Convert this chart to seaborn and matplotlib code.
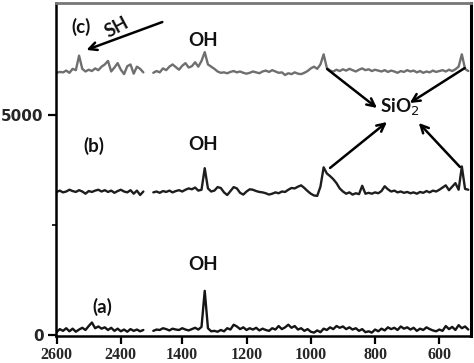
import numpy as np
import pandas as pd
import seaborn as sns
import matplotlib.pyplot as plt

# wavenumbers: left block 2600 -> 2330, right block 1490 -> 510 (step 10)
left_start, right_start, step = 2600, 1490, 10

# raw intensities (before vertical offset)
left_a = [60, 130, 90, 150, 80, 140, 70, 120, 160, 110,
          200, 280, 150, 190, 140, 170, 110, 160, 90, 140,
          80, 120, 70, 130, 90, 120, 80, 110]
right_a = [90, 120, 110, 150, 130, 100, 140, 120, 110, 150,
           120, 100, 130, 160, 120, 180, 1000, 150, 80, 90,
           70, 110, 80, 150, 120, 230, 190, 130, 170, 110,
           150, 120, 160, 100, 140, 110, 90, 150, 120, 200,
           130, 170, 230, 160, 200, 120, 150, 90, 130, 70,
           50, 100, 60, 140, 110, 170, 130, 200, 160, 190,
           130, 170, 120, 150, 90, 130, 60, 80, 50, 120,
           80, 140, 100, 170, 130, 160, 110, 190, 140, 170,
           120, 160, 90, 140, 110, 170, 130, 100, 80, 120,
           90, 200, 130, 180, 110, 220, 150, 190, 120]

left_b = [100, 130, 90, 110, 150, 120, 100, 140, 110, 60,
          120, 100, 130, 150, 110, 140, 100, 130, 80, 120,
          150, 110, 90, 140, 60, 130, 30, 110]
right_b = [90, 110, 80, 120, 100, 130, 90, 120, 140, 110,
           150, 180, 160, 200, 130, 150, 640, 180, 110, 130,
           210, 190, 90, 30, 120, 210, 180, 80, 40, 110,
           160, 150, 120, 100, 90, 70, 40, 60, 90, 70,
           110, 100, 150, 190, 180, 220, 250, 190, 120, 60,
           20, 10, 220, 660, 520, 460, 390, 300, 180, 110,
           60, 90, 40, 70, 50, 240, 60, 80, 60, 90,
           70, 120, 230, 160, 110, 130, 90, 110, 80, 100,
           70, 90, 60, 100, 80, 120, 90, 130, 110, 150,
           200, 250, 140, 220, 300, 150, 680, 170, 150]

left_c = [60, 80, 70, 110, 60, 150, 120, 450, 150, 90,
          130, 100, 160, 120, 200, 250, 330, 90, 180, 280,
          130, 30, 210, 250, 40, 200, 150, 70]
right_c = [60, 100, 70, 160, 120, 200, 250, 190, 130, 220,
           280, 180, 210, 300, 200, 330, 530, 250, 200, 150,
           90, 60, 70, 50, 80, 100, 70, 90, 60, 40,
           60, 90, 70, 50, 90, 110, 80, 120, 90, 60,
           70, 10, 50, 30, 70, 40, 30, 60, 100, 160,
           200, 150, 250, 480, 170, 110, 90, 130, 100, 140,
           110, 150, 120, 90, 130, 160, 120, 140, 100, 130,
           110, 90, 120, 80, 110, 90, 60, 100, 80, 120,
           90, 110, 70, 100, 60, 90, 70, 110, 80, 100,
           120, 90, 130, 100, 140, 200, 480, 150, 100]

offsets = {'a': 0, 'b': 3150, 'c': 5900}
colors = {'a': '#151515', 'b': '#1e1e1e', 'c': '#6f6f6f'}

tick_wn = [2600, 2400, 1400, 1200, 1000, 800, 600]


# broken x axis: map wavenumber to a continuous position
def to_pos(w):
    w = np.asarray(w, dtype=float)
    return np.where(w > 2000, 2600 - w, 1791 - w)


rows = []
for name, lv, rv in [('a', left_a, right_a), ('b', left_b, right_b), ('c', left_c, right_c)]:
    for seg, start, vals in [('L', left_start, lv), ('R', right_start, rv)]:
        wn = start - step * np.arange(len(vals))
        for w, v in zip(wn, vals):
            rows.append({'spectrum': name, 'seg': name + seg,
                         'pos': float(to_pos(w)), 'value': v + offsets[name]})
df = pd.DataFrame(rows)

sns.set_style("ticks")
fig = plt.figure(figsize=(4.74, 3.63), dpi=100)
ax = fig.add_axes([0.118, 0.074, 0.876, 0.918])

sns.lineplot(data=df, x='pos', y='value', hue='spectrum', units='seg',
             estimator=None, sort=False, palette=colors, lw=1.7,
             legend=False, ax=ax)

ax.set_xlim(-2, 1290)
ax.set_ylim(-30, 7550)
ax.set_xlabel('')
ax.set_ylabel('')

ax.set_xticks(to_pos(tick_wn))
ax.set_xticklabels([str(t) for t in tick_wn], fontfamily='Liberation Serif',
                   fontweight='bold', fontsize=11.5)
ax.set_yticks([0, 5000])
ax.set_yticklabels(['0', '5000'], fontweight='bold', fontsize=11)
ax.set_yticks([2500], minor=True)
ax.tick_params(axis='both', which='major', direction='out', length=6, width=1.6,
               color='black', pad=3)
ax.tick_params(axis='x', which='major', pad=1.5)
ax.tick_params(axis='y', which='minor', direction='out', length=3, width=1.4)

for side in ['left', 'bottom', 'right']:
    ax.spines[side].set_color('black')
    ax.spines[side].set_linewidth(1.8)
ax.spines['right'].set_linewidth(2.2)
ax.spines['top'].set_color('#777777')
ax.spines['top'].set_linewidth(2.0)

tfont = dict(family='Lato', fontsize=13.5, fontweight='bold', color='#111111',
             ha='center', va='center')
ax.text(75, 7000, '(c)', **tfont)
ax.text(189, 6990, 'SH', rotation=28, **tfont)
ax.text(457, 6700, 'OH', **tfont)
ax.text(115, 4300, '(b)', **tfont)
ax.text(457, 4320, 'OH', **tfont)
ax.text(143, 640, '(a)', **tfont)
ax.text(457, 1590, 'OH', **tfont)
ax.text(1068, 5180, 'SiO$_2$', **tfont)

arrow = dict(arrowstyle='->', color='black', lw=1.8, mutation_scale=14,
             shrinkA=0, shrinkB=0)
ax.annotate('', xy=(93, 6480), xytext=(329, 7115), arrowprops=arrow)
ax.annotate('', xy=(997, 5160), xytext=(842, 6046), arrowprops=arrow)
ax.annotate('', xy=(1099, 5273), xytext=(1270, 6069), arrowprops=arrow)
ax.annotate('', xy=(1028, 4841), xytext=(851, 3796), arrowprops=arrow)
ax.annotate('', xy=(1127, 4819), xytext=(1255, 3819), arrowprops=arrow)

plt.savefig('out.png', dpi=100)
